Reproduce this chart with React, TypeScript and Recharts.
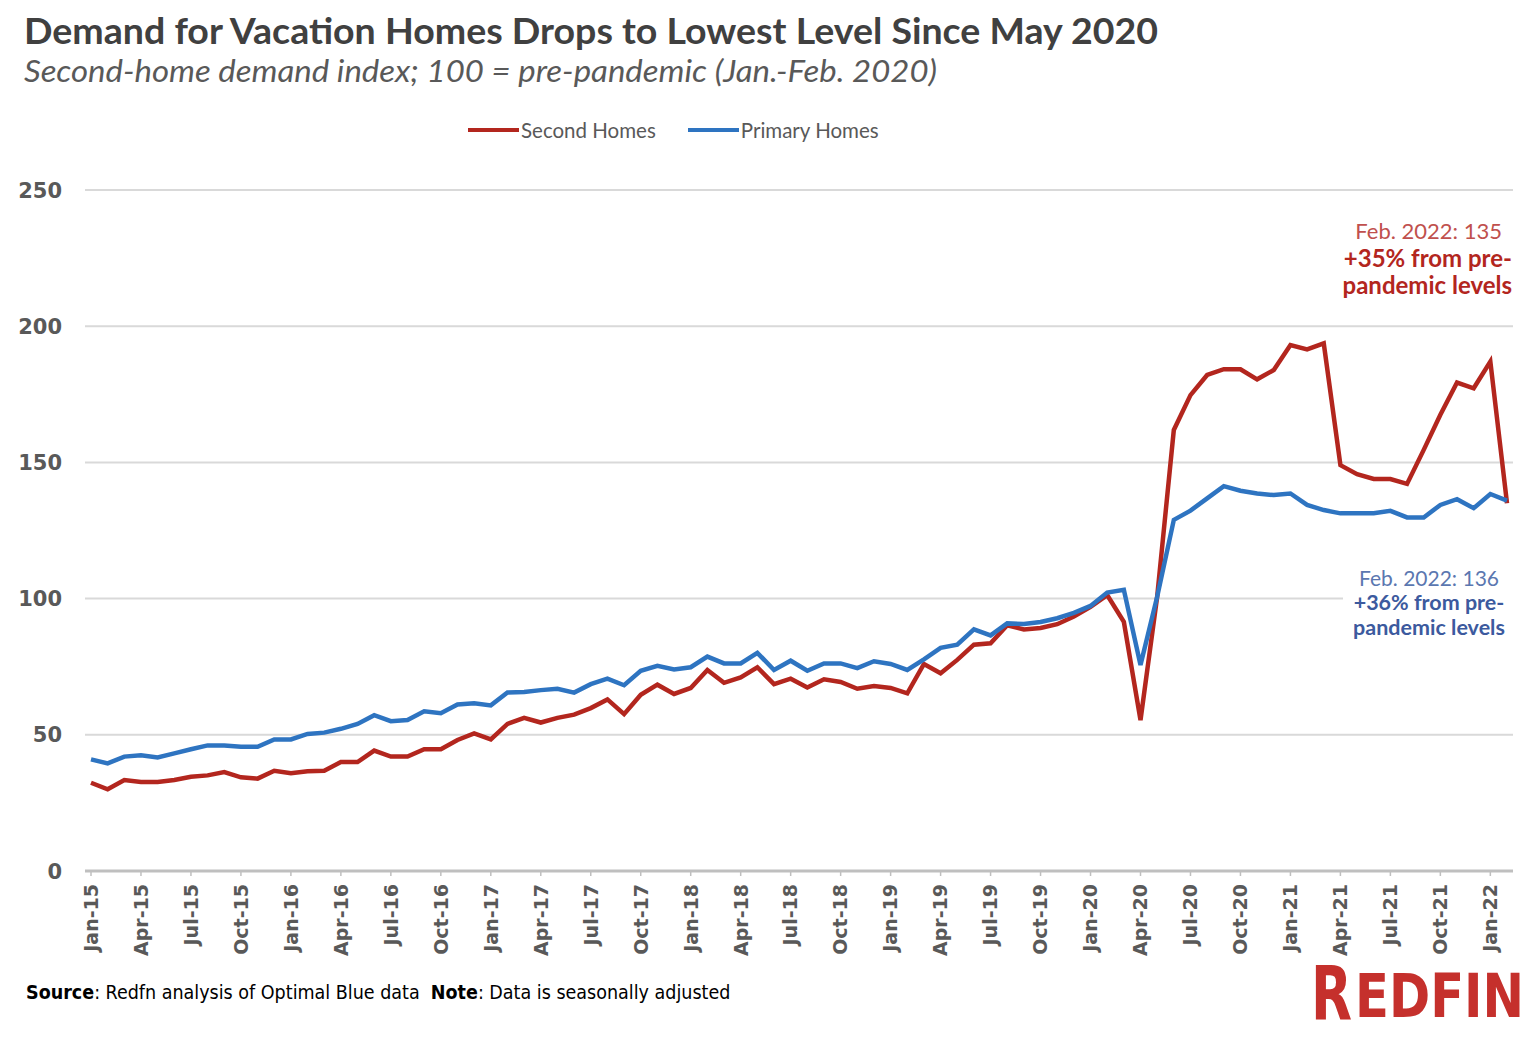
import React from "react";
import {
  LineChart,
  Line,
  XAxis,
  YAxis,
  CartesianGrid,
  Legend,
} from "recharts";

// monthly second-home / primary-home demand index, Jan 2015 .. Feb 2022
const MONTH_NAMES = ["Jan", "Feb", "Mar", "Apr", "May", "Jun", "Jul", "Aug", "Sep", "Oct", "Nov", "Dec"];
const YEARS = ["15", "16", "17", "18", "19", "20", "21", "22"];

const secondHomes = [
  32.4, 30.0, 33.4, 32.7, 32.7, 33.4, 34.6, 35.1, 36.3, 34.4, 33.9, 36.8,
  35.9, 36.6, 36.8, 40.0, 40.0, 44.2, 42.0, 42.0, 44.7, 44.7, 48.1, 50.5,
  48.3, 54.0, 56.2, 54.5, 56.2, 57.4, 59.8, 63.0, 57.6, 64.7, 68.4, 65.0,
  67.2, 73.8, 69.1, 71.1, 74.8, 68.6, 70.6, 67.4, 70.4, 69.4, 66.9, 67.9,
  67.2, 65.2, 76.0, 72.6, 77.5, 83.1, 83.6, 90.2, 88.7, 89.2, 90.6, 93.4,
  97.0, 101.3, 91.5, 55.4, 100.7, 161.9, 174.7, 182.1, 184.2, 184.2, 180.5, 183.9,
  193.1, 191.5, 193.7, 149.0, 145.7, 143.9, 143.9, 142.1, 154.6, 167.5, 179.3, 177.2,
  187.0, 135,
];

const primaryHomes = [
  41.0, 39.5, 42.0, 42.5, 41.7, 43.2, 44.7, 46.1, 46.1, 45.6, 45.6, 48.3,
  48.3, 50.3, 50.8, 52.2, 54.0, 57.2, 55.0, 55.4, 58.6, 57.9, 61.1, 61.6,
  60.8, 65.5, 65.7, 66.4, 66.9, 65.5, 68.6, 70.6, 68.2, 73.5, 75.3, 74.0,
  74.8, 78.7, 76.2, 76.2, 80.1, 73.8, 77.2, 73.5, 76.2, 76.2, 74.5, 77.0,
  76.0, 73.8, 77.7, 81.9, 83.1, 88.7, 86.5, 90.9, 90.7, 91.4, 92.8, 94.8,
  97.3, 102.2, 103.2, 75.6, 100.7, 128.9, 132.3, 136.8, 141.3, 139.6, 138.6, 138.0,
  138.6, 134.4, 132.5, 131.3, 131.3, 131.3, 132.2, 129.8, 129.8, 134.4, 136.5, 133.2,
  138.4, 136,
];

const yTicks = [0, 50, 100, 150, 200, 250];

const months: string[] = [];
YEARS.forEach((yy) => MONTH_NAMES.forEach((m) => months.push(`${m}-${yy}`)));

const data = secondHomes.map((v, i) => ({
  month: months[i],
  second: v,
  primary: primaryHomes[i],
}));

const RED = "#B3261E";
const BLUE = "#2E74C1";
const GRAY = "#595959";

const XTick = (props: any) => {
  const { x, y, payload } = props;
  return (
    <text
      x={x}
      y={y}
      transform={`rotate(-90, ${x}, ${y})`}
      textAnchor="end"
      dy="0.36em"
      fill={GRAY}
      fontFamily="DejaVu Sans"
      fontWeight={700}
      fontSize={19}
    >
      {payload.value}
    </text>
  );
};

const YTick = (props: any) => {
  const { x, y, payload } = props;
  return (
    <text
      x={x}
      y={y}
      dx={-15}
      dy="0.36em"
      textAnchor="end"
      fill={GRAY}
      fontFamily="DejaVu Sans"
      fontWeight={700}
      fontSize={21}
    >
      {payload.value}
    </text>
  );
};

const LegendBox = () => (
  <div
    style={{
      display: "flex",
      alignItems: "center",
      height: 20,
      paddingLeft: 468,
      fontFamily: "Lato",
      fontSize: 20.5,
      color: GRAY,
    }}
  >
    {[
      { name: "Second Homes", color: RED },
      { name: "Primary Homes", color: BLUE },
    ].map((s) => (
      <span key={s.name} style={{ display: "flex", alignItems: "center", marginRight: 32 }}>
        <span style={{ width: 51, height: 4, background: s.color, display: "inline-block", marginRight: 2 }} />
        {s.name}
      </span>
    ))}
  </div>
);

export default function App() {
  return (
    <div
      style={{
        position: "absolute",
        left: 0,
        top: 0,
        width: 1536,
        height: 1038,
        background: "#fff",
        overflow: "hidden",
      }}
    >
      <LineChart
        width={1536}
        height={1038}
        data={data}
        margin={{ top: 170, right: 23, bottom: 0, left: 0 }}
      >
        <CartesianGrid vertical={false} stroke="#d9d9d9" strokeWidth={2} />
        <XAxis
          dataKey="month"
          interval={2}
          height={167}
          padding={{ left: 6, right: 6 }}
          axisLine={{ stroke: "#bfbfbf", strokeWidth: 3 }}
          tickLine={{ stroke: "#bfbfbf", strokeWidth: 1.5 }}
          tickSize={5}
          tickMargin={8}
          tick={<XTick />}
        />
        <YAxis
          width={85}
          domain={[0, 250]}
          ticks={yTicks}
          axisLine={false}
          tickLine={false}
          tick={<YTick />}
        />
        <Legend
          verticalAlign="top"
          content={<LegendBox />}
          wrapperStyle={{ top: 120, left: 0, width: 1536 }}
        />
        <Line
          type="linear"
          dataKey="second"
          name="Second Homes"
          stroke={RED}
          strokeWidth={4.5}
          dot={false}
          isAnimationActive={false}
        />
        <Line
          type="linear"
          dataKey="primary"
          name="Primary Homes"
          stroke={BLUE}
          strokeWidth={4.5}
          dot={false}
          isAnimationActive={false}
        />
      </LineChart>

      {/* headline and subtitle */}
      <svg style={{ position: "absolute", left: 0, top: 0 }} width={1200} height={95}>
        <text
          x={24}
          y={44}
          fontFamily="Lato"
          fontWeight={700}
          fontSize={37}
          fill="#404040"
          textLength={1134}
          lengthAdjust="spacingAndGlyphs"
        >
          Demand for Vacation Homes Drops to Lowest Level Since May 2020
        </text>
        <text
          x={24}
          y={82}
          fontFamily="Lato"
          fontStyle="italic"
          fontSize={30}
          fill={GRAY}
          textLength={913}
          lengthAdjust="spacingAndGlyphs"
        >
          Second-home demand index; 100 = pre-pandemic (Jan.-Feb. 2020)
        </text>
      </svg>

      {/* callout for second homes */}
      <div
        style={{
          position: "absolute",
          right: 24,
          top: 217,
          textAlign: "right",
          fontFamily: "Lato",
          fontSize: 22,
          lineHeight: "27px",
          color: RED,
        }}
      >
        <div style={{ color: "#C0504D", marginRight: 10 }}>Feb. 2022: 135</div>
        <div style={{ fontWeight: 700, fontSize: 24 }}>+35% from pre-</div>
        <div style={{ fontWeight: 700, fontSize: 24 }}>pandemic levels</div>
      </div>

      {/* callout for primary homes */}
      <div
        style={{
          position: "absolute",
          left: 1343,
          top: 565,
          width: 172,
          background: "#fff",
          textAlign: "center",
          fontFamily: "Lato",
          fontSize: 21.5,
          lineHeight: "25px",
          color: "#3C5A9E",
        }}
      >
        <div style={{ color: "#5B77B0", fontSize: 21 }}>Feb. 2022: 136</div>
        <div style={{ fontWeight: 700 }}>+36% from pre-</div>
        <div style={{ fontWeight: 700 }}>pandemic levels</div>
      </div>

      <div
        style={{
          position: "absolute",
          left: 26,
          top: 981,
          fontFamily: "DejaVu Sans Condensed",
          fontSize: 19.5,
          color: "#000",
          whiteSpace: "nowrap",
        }}
      >
        <b>Source</b>: Redfn analysis of Optimal Blue data&nbsp;&nbsp;<b>Note</b>: Data is seasonally adjusted
      </div>

      {/* wordmark, squeezed horizontally */}
      <svg style={{ position: "absolute", left: 1290, top: 938 }} width={246} height={100}>
        <text
          transform="translate(21,82) scale(0.8,1)"
          fill="#C5302C"
          fontFamily="DejaVu Sans Condensed"
          fontWeight={700}
          fontSize={74}
        >
          R
        </text>
        <text
          transform="translate(65,79) scale(0.92,1)"
          fill="#C5302C"
          fontFamily="DejaVu Sans Condensed"
          fontWeight={700}
          fontSize={60}
        >
          EDFIN
        </text>
      </svg>
    </div>
  );
}
